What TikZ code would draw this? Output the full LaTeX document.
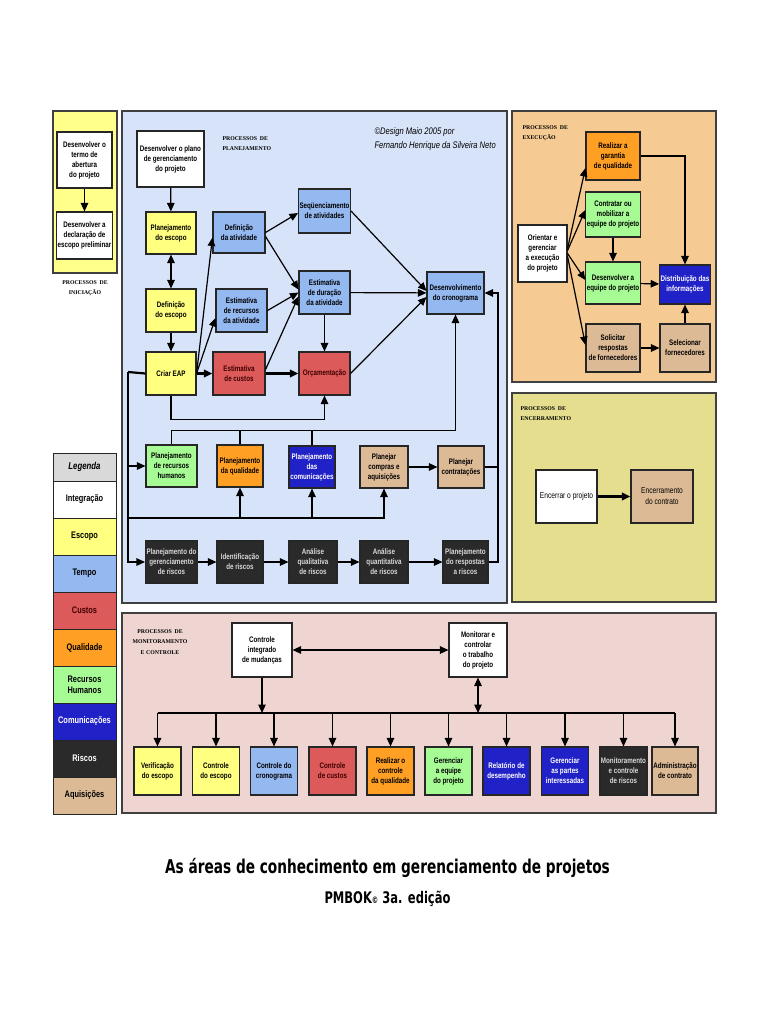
\documentclass[tikz,border=0pt]{standalone}
\usepackage{fontspec}
\setmainfont{Liberation Sans}
\newfontfamily\caixafont[FakeStretch=0.78]{Liberation Sans}
\newfontfamily\rotulofont{Liberation Serif}
\newfontfamily\creditofont[FakeStretch=0.8]{Liberation Sans}
\newfontfamily\titulofont[FakeStretch=0.72]{DejaVu Sans}
\usetikzlibrary{positioning,arrows.meta}

\definecolor{corEscopo}{HTML}{FFFF80}
\definecolor{corTempo}{HTML}{94B8F0}
\definecolor{corCustos}{HTML}{DC5A5A}
\definecolor{corQualidade}{HTML}{FFA024}
\definecolor{corRH}{HTML}{A6FB95}
\definecolor{corComunic}{HTML}{2121C8}
\definecolor{corRiscos}{HTML}{2A2A2A}
\definecolor{corAquis}{HTML}{DDBA96}
\definecolor{fundoIni}{HTML}{FFFF8A}
\definecolor{fundoPlan}{HTML}{D7E3F8}
\definecolor{fundoExec}{HTML}{F6CB93}
\definecolor{fundoEnc}{HTML}{E4DE8E}
\definecolor{fundoMon}{HTML}{EFD5D2}

\begin{document}
\begin{tikzpicture}[x=1pt, y=-1pt,
  every node/.style={font=\caixafont\bfseries\fontsize{8}{10}\selectfont},
  caixa/.style={draw=black!85, line width=1.1pt, align=center, inner sep=1pt},
  integ/.style={caixa, fill=white},
  escopo/.style={caixa, fill=corEscopo},
  tempo/.style={caixa, fill=corTempo},
  custo/.style={caixa, fill=corCustos, text=black!75!red},
  qualid/.style={caixa, fill=corQualidade},
  rhum/.style={caixa, fill=corRH},
  comun/.style={caixa, fill=corComunic, text=white},
  risco/.style={caixa, fill=corRiscos, text=white!85!black},
  aquis/.style={caixa, fill=corAquis},
  painel/.style={draw=black!75, line width=1.2pt},
  rotulo/.style={font=\rotulofont\bfseries\fontsize{5.8}{10.5}\selectfont},
  leg/.style={draw=black!85, line width=1pt, minimum width=63pt, minimum height=37pt, inner sep=0pt, align=center, font=\caixafont\bfseries\fontsize{9.5}{11}\selectfont},
  arr/.style={-{Triangle[length=8.5pt,width=7.5pt]}, line width=1.2pt},
  dupla/.style={{Triangle[length=8.5pt,width=7.5pt]}-{Triangle[length=8.5pt,width=7.5pt]}, line width=1.2pt},
  grossa/.style={line width=2.2pt}]

  \fill[white] (0,0) rectangle (768,1024);
  \useasboundingbox (0,0) rectangle (768,1024);

  % paineis
  \draw[painel, fill=fundoIni] (53,111) rectangle (117,273);
  \draw[painel, fill=fundoPlan] (122,111) rectangle (507,603);
  \draw[painel, fill=fundoExec] (512,111) rectangle (716,382);
  \draw[painel, fill=fundoEnc] (512,393) rectangle (716,602);
  \draw[painel, fill=fundoMon] (122,613) rectangle (716,813);

  \node[rotulo, align=center] (rotIni) at (85,288) {PROCESSOS\ \ DE\\INICIAÇÃO};
  \node[rotulo, align=left, anchor=north west] (rotPlan) at (219,133) {PROCESSOS\ \ DE\\PLANEJAMENTO};
  \node[rotulo, align=left, anchor=north west] (rotExec) at (519,122) {PROCESSOS\ \ DE\\EXECUÇÃO};
  \node[rotulo, align=left, anchor=north west] (rotEnc) at (517,403) {PROCESSOS\ \ DE\\ENCERRAMENTO};
  \node[rotulo, align=center] (rotMon) at (160,642) {PROCESSOS\ \ DE\\MONITORAMENTO\\E CONTROLE};
  \node[anchor=north west, align=left, font=\creditofont\itshape\fontsize{9.5}{14.5}\selectfont] (credito) at (371,124) {©Design Maio 2005 por\\Fernando Henrique da Silveira Neto};

  % iniciacao
  \node[integ, minimum width=55pt, minimum height=56pt] (termo) at (84.5,160) {Desenvolver o\\termo de\\abertura\\do projeto};
  \node[integ, minimum width=55pt, minimum height=47pt] (declar) at (84.5,235.5) {Desenvolver a\\declaração de\\escopo preliminar};
  \draw[arr] (termo) -- (declar);

  % planejamento
  \node[integ, minimum width=67pt, minimum height=56pt] (plano) at (170.5,159) {Desenvolver o plano\\de gerenciamento\\do projeto};
  \node[escopo, minimum width=50pt, minimum height=42pt] (planEsc) at (171,233) {Planejamento\\do escopo};
  \node[escopo, minimum width=50pt, minimum height=43pt] (defEsc) at (171,310.5) {Definição\\do escopo};
  \node[escopo, minimum width=50pt, minimum height=43pt] (eap) at (171,373.5) {Criar EAP};
  \node[tempo, minimum width=52pt, minimum height=41pt] (defAtiv) at (239,232.5) {Definição\\da atividade};
  \node[tempo, minimum width=51pt, minimum height=43pt] (estRec) at (241.5,310.5) {Estimativa\\de recursos\\da atividade};
  \node[custo, minimum width=52pt, minimum height=43pt] (estCust) at (239,373.5) {Estimativa\\de custos};
  \node[tempo, minimum width=51pt, minimum height=44pt] (seq) at (324.5,211) {Seqüenciamento\\de atividades};
  \node[tempo, minimum width=51pt, minimum height=43pt] (estDur) at (324.5,292.5) {Estimativa\\de duração\\da atividade};
  \node[custo, minimum width=51pt, minimum height=43pt] (orc) at (324.5,373.5) {Orçamentação};
  \node[tempo, minimum width=57pt, minimum height=42pt] (crono) at (455.5,293) {Desenvolvimento\\do cronograma};

  \node[rhum, minimum width=51pt, minimum height=42pt] (planRH) at (171.5,466) {Planejamento\\de recursos\\humanos};
  \node[qualid, minimum width=46pt, minimum height=42pt] (planQual) at (240,466) {Planejamento\\da qualidade};
  \node[comun, minimum width=46pt, minimum height=42pt] (planCom) at (312,467) {Planejamento\\das\\comunicações};
  \node[aquis, minimum width=48pt, minimum height=42pt] (planComp) at (384,467) {Planejar\\compras e\\aquisições};
  \node[aquis, minimum width=46pt, minimum height=42pt] (planCont) at (461,467) {Planejar\\contratações};

  \node[risco, minimum width=51pt, minimum height=42pt] (risco1) at (171.5,562) {Planejamento do\\gerenciamento\\de riscos};
  \node[risco, minimum width=46pt, minimum height=42pt] (risco2) at (240,562) {Identificação\\de riscos};
  \node[risco, minimum width=48pt, minimum height=42pt] (risco3) at (313,562) {Análise\\qualitativa\\de riscos};
  \node[risco, minimum width=48pt, minimum height=42pt] (risco4) at (384,562) {Análise\\quantitativa\\de riscos};
  \node[risco, minimum width=45pt, minimum height=42pt] (risco5) at (465.5,562) {Planejamento\\do respostas\\a riscos};

  \draw[arr] (plano) -- (planEsc);
  \draw[dupla] (planEsc) -- (defEsc);
  \draw[arr] (defEsc) -- (eap);
  \draw[arr] (eap.east) -- ([yshift=-5pt]defAtiv.west);
  \draw[arr] (eap.east) -- ([yshift=-7.5pt]estRec.west);
  \draw[arr, grossa] (eap) -- (estCust);
  \draw[arr, grossa] (estCust) -- (orc);
  \draw[arr] (eap.south) -- ++(0,24) -| (orc.south);
  \draw[arr] (defAtiv.east) -- ([yshift=-2pt]seq.west);
  \draw[arr] ([yshift=-4pt]defAtiv.east) -- ([yshift=3pt]estDur.west);
  \draw[arr] (estRec.east) -- (estDur.west);
  \draw[arr] ([yshift=4pt]estCust.east) -- ([yshift=-4pt]estDur.west);
  \draw[arr] (estDur) -- (orc);
  \draw[arr] (seq.east) -- ([yshift=2pt]crono.west);
  \draw[arr] (estDur) -- (crono);
  \draw[arr] (orc.east) -- ([yshift=-4pt]crono.west);
  \draw[arr] (planRH.north) -- ++(0,-14) -| (crono.south);
  \draw[line width=1.2pt] (planQual.north) -- ++(0,-14);
  \draw[line width=1.2pt] (planCom.north) -- ++(0,-14);

  \coordinate (tronco) at (128,372);
  \coordinate (barra) at (128,518);
  \coordinate (retorno) at (498,562);
  \draw[grossa] (eap.west) -- (tronco);
  \draw[arr] (tronco) |- (risco1.west);
  \draw[arr] (tronco |- planRH.west) -- (planRH.west);
  \draw[arr] (barra) -| (planComp.south);
  \draw[arr] (barra -| planQual.south) -- (planQual.south);
  \draw[arr] (barra -| planCom.south) -- (planCom.south);
  \draw[arr] (planComp) -- (planCont);
  \draw[arr] (risco1) -- (risco2);
  \draw[arr] (risco2) -- (risco3);
  \draw[arr] (risco3) -- (risco4);
  \draw[arr] (risco4) -- (risco5);
  \draw[arr] (risco5.east) -- (retorno) |- (crono.east);
  \draw[line width=1.2pt] (planCont.east) -- (planCont.east -| retorno);

  % execucao
  \node[integ, minimum width=49pt, minimum height=57pt] (orient) at (542.5,253.5) {Orientar e\\gerenciar\\a execução\\do projeto};
  \node[qualid, minimum width=54pt, minimum height=48pt] (garantia) at (613,156) {Realizar a\\garantia\\de qualidade};
  \node[rhum, minimum width=54pt, minimum height=45pt] (contrat) at (613,214.5) {Contratar ou\\mobilizar a\\equipe do projeto};
  \node[rhum, minimum width=54pt, minimum height=42pt] (desenvEq) at (613,283) {Desenvolver a\\equipe do projeto};
  \node[aquis, minimum width=54pt, minimum height=48pt] (solic) at (613,348) {Solicitar\\respostas\\de fornecedores};
  \node[comun, minimum width=50pt, minimum height=39pt] (distrib) at (685,284.5) {Distribuição das\\informações};
  \node[aquis, minimum width=50pt, minimum height=48pt] (selec) at (685,348) {Selecionar\\fornecedores};

  \draw[arr] ([yshift=5pt]orient.east) -- ([yshift=-12pt]garantia.west);
  \draw[arr] ([yshift=3pt]orient.east) -- ([yshift=4.5pt]contrat.west);
  \draw[arr] (orient.east) -- ([yshift=3pt]desenvEq.west);
  \draw[arr] ([yshift=-3pt]orient.east) -- ([yshift=3pt]solic.west);
  \draw[arr] (garantia.east) -| (distrib.north);
  \draw[arr] (contrat) -- (desenvEq);
  \draw[arr] (desenvEq) -- (distrib);
  \draw[arr] (solic) -- (selec);
  \draw[arr] (selec) -- (distrib);

  % encerramento
  \node[integ, minimum width=61pt, minimum height=53pt, font=\caixafont\fontsize{8.5}{11}\selectfont] (encProj) at (566.5,496.5) {Encerrar o projeto};
  \node[aquis, minimum width=62pt, minimum height=53pt, font=\caixafont\fontsize{8.5}{11}\selectfont] (encCont) at (662,496.5) {Encerramento\\do contrato};
  \draw[arr, grossa] (encProj) -- (encCont);

  % monitoramento e controle
  \node[integ, minimum width=60pt, minimum height=54pt] (ctrlMud) at (262,650) {Controle\\integrado\\de mudanças};
  \node[integ, minimum width=58pt, minimum height=54pt] (monTrab) at (478,650) {Monitorar e\\controlar\\o trabalho\\do projeto};
  \node[escopo, minimum width=47pt, minimum height=48pt] (mc1) at (157.5,771) {Verificação\\do escopo};
  \node[escopo, minimum width=47pt, minimum height=48pt] (mc2) at (216,771) {Controle\\do escopo};
  \node[tempo, minimum width=47pt, minimum height=48pt] (mc3) at (274,771) {Controle do\\cronograma};
  \node[custo, minimum width=47pt, minimum height=48pt] (mc4) at (332.5,771) {Controle\\de custos};
  \node[qualid, minimum width=47pt, minimum height=48pt] (mc5) at (390.5,771) {Realizar o\\controle\\da qualidade};
  \node[rhum, minimum width=47pt, minimum height=48pt] (mc6) at (448.5,771) {Gerenciar\\a equipe\\do projeto};
  \node[comun, minimum width=47pt, minimum height=48pt] (mc7) at (506.5,771) {Relatório de\\desempenho};
  \node[comun, minimum width=47pt, minimum height=48pt] (mc8) at (565,771) {Gerenciar\\as partes\\interessadas};
  \node[risco, minimum width=47pt, minimum height=48pt] (mc9) at (623.5,771) {Monitoramento\\e controle\\de riscos};
  \node[aquis, minimum width=46pt, minimum height=48pt] (mc10) at (675,771) {Administração\\de contrato};

  \coordinate (barramento) at (158,713);
  \draw[dupla] (ctrlMud) -- (monTrab);
  \draw[arr] (ctrlMud.south) -- (ctrlMud.south |- barramento);
  \draw[dupla] (monTrab.south) -- (monTrab.south |- barramento);
  \draw[line width=1.2pt] (mc1.north |- barramento) -- (mc10.north |- barramento);
  \foreach \n in {1,...,10}
    \draw[arr] (mc\n.north |- barramento) -- (mc\n.north);

  % legenda
  \node[leg, minimum height=28pt, fill=gray!30, font=\caixafont\bfseries\itshape\fontsize{10}{12}\selectfont] (legenda) at (84.5,467) {Legenda};
  \foreach \cor/\tinta/\txt [count=\i] in {white/black/Integração, corEscopo/black/Escopo, corTempo/black/Tempo, corCustos/black!75!red/Custos, corQualidade/black/Qualidade, corRH/black/Recursos\\Humanos, corComunic/white/Comunicações, corRiscos/white/Riscos, corAquis/black/Aquisições}
    \node[leg, fill=\cor, text=\tinta] (leg\i) at (84.5,{462.5+37*\i}) {\txt};

  % titulo
  \node[font=\titulofont\bfseries\fontsize{19}{23}\selectfont] (titulo) at (387.5,868) {As áreas de conhecimento em gerenciamento de projetos};
  \node[font=\titulofont\bfseries\fontsize{16}{20}\selectfont] (subtitulo) at (387.5,899) {PMBOK{\fontsize{9}{9}\selectfont ©} 3a. edição};
\end{tikzpicture}
\end{document}
